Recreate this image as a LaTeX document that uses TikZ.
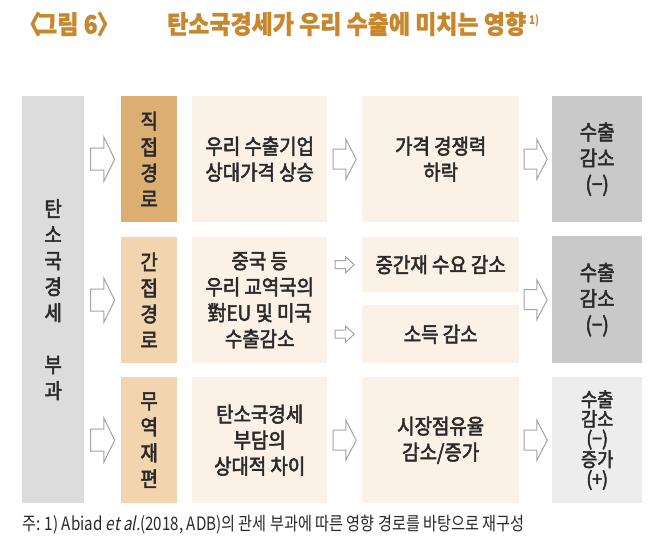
\documentclass[tikz,border=0pt]{standalone}
\usepackage{fontspec}
\setmainfont{Noto Sans CJK KR}
\newfontfamily\boxfont[FakeStretch=0.9,FakeBold=2.5]{Noto Sans CJK KR}
\newfontfamily\titlefont[FakeStretch=0.9,FakeBold=1]{Noto Sans CJK KR}
\newfontfamily\notefont[FakeStretch=0.82]{Noto Sans CJK KR}
\newfontfamily\noteit[FakeStretch=0.82,FakeSlant=0.2]{Noto Sans CJK KR}
\usetikzlibrary{calc}

\definecolor{taxgray}{HTML}{DCDCDC}
\definecolor{pathtan}{HTML}{DDAE72}
\definecolor{pathlight}{HTML}{F2D4AE}
\definecolor{effcream}{HTML}{FBF1E6}
\definecolor{outgray}{HTML}{C9C9C9}
\definecolor{outlight}{HTML}{EDEDED}
\definecolor{titleor}{HTML}{C8872C}
\definecolor{arrowgray}{HTML}{A3A3A3}
\definecolor{txt}{HTML}{2A2A2A}

\tikzset{
  box/.style = {anchor=north west, inner sep=0pt, align=center, text=txt,
    font=\boxfont\fontsize{21}{26}\selectfont},
  arrowbox/.style = {draw=arrowgray, fill=white, line width=1pt}
}

% block arrow from node #1 to node #2, length #3, head half height #4
\newcommand{\flowarrow}[4]{%
  \draw[arrowbox] let \p1=(#1.east), \p2=(#2.west) in
    ({0.5*\x1+0.5*\x2-0.5*#3pt},{\y2+0.5*#4pt}) -- ++({0.55*#3pt},0pt)
    -- ++(0pt,{0.5*#4pt}) -- ++({0.45*#3pt},{-#4pt}) -- ++({-0.45*#3pt},{-#4pt})
    -- ++(0pt,{0.5*#4pt}) -- ++({-0.55*#3pt},0pt) -- cycle;}

\begin{document}
\begin{tikzpicture}[x=1pt, y=-1pt]
  \useasboundingbox[fill=white] (0,0) rectangle (654,556);

  % title
  \node[anchor=west, inner sep=0pt, text=titleor, font=\titlefont\bfseries\fontsize{25.5}{25.5}\selectfont] (fig) at (18,24) {〈\kern-5pt그림 6\kern-1pt〉};
  \node[anchor=west, inner sep=0pt, text=titleor, font=\titlefont\bfseries\fontsize{25.5}{25.5}\selectfont] (title) at (167,24)
    {탄소국경세가 우리 수출에 미치는 영향\kern3pt\raisebox{9pt}{\notefont\fontsize{12}{12}\selectfont 1)}};

  % cause
  \node[box, fill=taxgray, minimum width=62pt, minimum height=407pt] (tax) at (22,96) {탄\\소\\국\\경\\세\\\mbox{}\\부\\과};

  % paths
  \node[box, fill=pathtan, minimum width=56pt, minimum height=126pt] (direct) at (121,96) {직\\접\\경\\로};
  \node[box, fill=pathlight, minimum width=56pt, minimum height=126pt] (indirect) at (121,237) {간\\접\\경\\로};
  \node[box, fill=pathlight, minimum width=56pt, minimum height=126pt] (trade) at (121,377) {무\\역\\재\\편};

  % first effects
  \node[box, fill=effcream, minimum width=135pt, minimum height=126pt] (price) at (192,96) {우리 수출기업\\상대가격 상승};
  \node[box, fill=effcream, minimum width=135pt, minimum height=126pt] (partner) at (192,237) {중국 등\\우리 교역국의\\對EU 및 미국\\수출감소};
  \node[box, fill=effcream, minimum width=135pt, minimum height=126pt] (burden) at (192,377) {탄소국경세\\부담의\\상대적 차이};

  % second effects
  \node[box, fill=effcream, minimum width=157pt, minimum height=126pt] (compete) at (362,96) {가격 경쟁력\\하락};
  \node[box, fill=effcream, minimum width=157pt, minimum height=55pt] (demand) at (362,237) {중간재 수요 감소};
  \node[box, fill=effcream, minimum width=157pt, minimum height=58pt] (income) at (362,305) {소득 감소};
  \node[box, fill=effcream, minimum width=157pt, minimum height=126pt] (share) at (362,377) {시장점유율\\감소/증가};

  % exports
  \node[box, fill=outgray, minimum width=90pt, minimum height=126pt] (outA) at (552,96) {수출\\감소\\(−)};
  \node[box, fill=outgray, minimum width=90pt, minimum height=127pt] (outB) at (552,236) {수출\\감소\\(−)};
  \node[box, fill=outlight, minimum width=90pt, minimum height=126pt, font=\boxfont\fontsize{19.5}{19.5}\selectfont] (outC) at (552,377) {수출\\감소\\(−)\\증가\\(+)};

  % arrows
  \flowarrow{tax}{direct}{24}{22}
  \flowarrow{tax}{indirect}{24}{22}
  \flowarrow{tax}{trade}{24}{22}
  \flowarrow{price}{compete}{23}{20}
  \flowarrow{compete}{outA}{23}{20}
  \flowarrow{partner}{demand}{19}{8}
  \flowarrow{partner}{income}{19}{8}
  \flowarrow{demand}{outB}{23}{20}
  \flowarrow{burden}{share}{23}{20}
  \flowarrow{share}{outC}{23}{20}

  % note
  \node[anchor=west, inner sep=0pt, text=txt, font=\notefont\fontsize{18.5}{18.5}\selectfont] (note) at (22,525)
    {주: 1) Abiad {\noteit et al.}(2018, ADB)의 관세 부과에 따른 영향 경로를 바탕으로 재구성};
\end{tikzpicture}
\end{document}
